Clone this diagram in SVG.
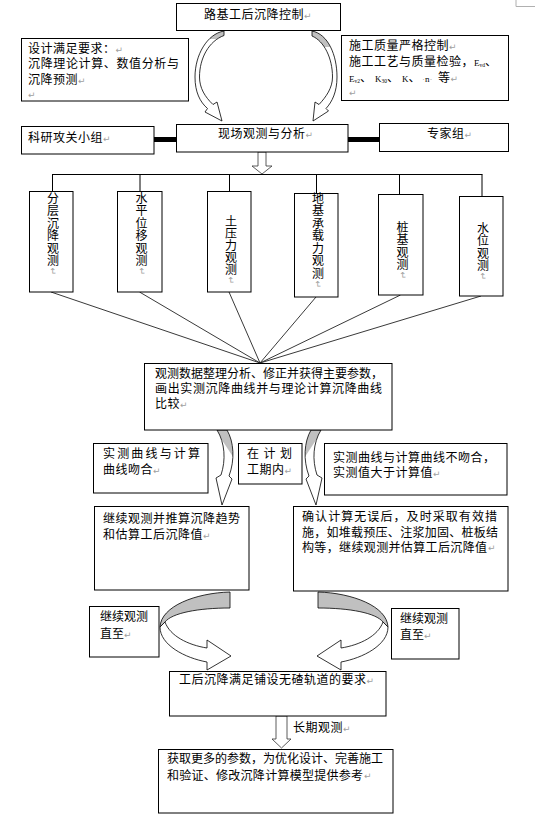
<svg xmlns="http://www.w3.org/2000/svg" width="542" height="819" viewBox="0 0 542 819">
<style>
.box{fill:#fff;stroke:#000;stroke-width:1}
.t{font-family:"Noto Sans CJK SC","Noto Sans CJK JP",sans-serif;font-size:12px;fill:#000;letter-spacing:0.5px}
.j{letter-spacing:0}
.tv{font-family:"Noto Sans CJK SC","Noto Sans CJK JP",sans-serif;font-size:12px;fill:#000}
.pm{font-family:"DejaVu Sans",sans-serif;font-size:9px;fill:#a0a0a0;letter-spacing:0}
.lat{font-family:"Liberation Serif",serif;font-size:9px;letter-spacing:0}
.sub{font-family:"Liberation Serif",serif;font-size:5.5px;letter-spacing:0}
.dot{font-family:"Liberation Serif",serif;font-size:9px;fill:#a0a0a0;letter-spacing:0}
.ln{stroke:#000;stroke-width:1;fill:none}
.cl{stroke:#222;stroke-width:0.9;fill:none}
.bar{stroke:#000;stroke-width:5;fill:none}
.wf{fill:#fff}
.gf{fill:#c0c0c0}
.sk{fill:none;stroke:#000;stroke-width:0.8;stroke-linejoin:round}
.cv{fill:#fff;stroke:#000;stroke-width:0.8;stroke-linejoin:round}
.cg{fill:#c0c0c0;stroke:#000;stroke-width:0.8;stroke-linejoin:round}
.ha{fill:#fff;stroke:#333;stroke-width:0.8}
</style>
<defs>
<path id="tlp" d="M224,31 C207,34 195,55 195,77 C195,92 200,102 207.5,108.5 L205,112 L222,121 L217,102 L213,104.5 C205,97 199.5,88 199.5,77 C199.5,58 209,41 224,35.5 Z"/>
<clipPath id="tlc"><use href="#tlp"/></clipPath>
<path id="trp" d="M312,31 C328,34 337,55 337,77 C337,92 332,102 326,108.5 L328.5,111 L313,121 L315,102 L319,104.5 C326,97 332.5,88 332.5,77 C332.5,58 324,41 312,36 Z"/>
<clipPath id="trc"><use href="#trp"/></clipPath>
<path id="mlp" d="M217,430 L227,430 C234,442 235,460 229,476 L232,479 L222,505 L216,478 L221,475 C226,460 225,443 217,430 Z"/>
<clipPath id="mlc"><use href="#mlp"/></clipPath>
<g id="midArrow">
<use href="#mlp" class="wf"/>
<polygon class="gf" clip-path="url(#mlc)" points="214,428 229,428 234.5,459"/>
<use href="#mlp" class="sk"/>
</g>
<g id="lowArrow">
<path class="cg" d="M230,592 C196,593 161,606 160,627 L165,622 C172,613 198,608 230,608 Z"/>
<path class="cv" d="M160,627 C160,645 185,658 207,662 L207,670 L231,656 L207,640 L207,648 C188,645 170,636 165,622 Z"/>
</g>
</defs>
<rect width="542" height="819" fill="#fff"/>
<path d="M516,0 V6.5 H535" fill="none" stroke="#b0b0b0" stroke-width="1"/>

<g id="connectors">
<use href="#tlp" class="wf"/>
<rect x="180" y="27" width="50" height="12" class="gf" clip-path="url(#tlc)"/>
<use href="#tlp" class="sk"/>
<use href="#trp" class="wf"/>
<rect x="305" y="27" width="40" height="20" class="gf" clip-path="url(#trc)"/>
<use href="#trp" class="sk"/>
<path class="bar" d="M154,139.5 H177 M348,139.5 H380"/>
<polygon class="ha" points="258,152 266,152 266,166 272,166 262,174 252,166 258,166"/>
<path class="ln" d="M52,174.5 H482.5 M52.5,174.5 V191.5 M140,174.5 V191.5 M229.5,174.5 V191.5 M316.5,174.5 V193.5 M399.5,174.5 V194.5 M482,174.5 V196.5"/>
<path class="cl" d="M51,292 L260,363 M139.5,292 L260,363 M229,292 L260,363 M316,297 L260,363 M400.5,295 L260,363 M481,296 L260,363"/>
<use href="#midArrow"/>
<use href="#midArrow" transform="translate(538,0) scale(-1,1)"/>
<use href="#lowArrow"/>
<use href="#lowArrow" transform="translate(548,0) scale(-1,1)"/>
<polygon class="ha" points="276,716 287,716 287,739 291,739 281.5,748 272,739 276,739"/>
<text class="t" x="293" y="731.5">长期观测<tspan class="pm">↵</tspan></text>
</g>

<g id="n-top">
<rect class="box" x="176.5" y="3.5" width="164" height="27"/>
<text class="t" x="204" y="19">路基工后沉降控制<tspan class="pm">↵</tspan></text>
</g>

<g id="n-design">
<rect class="box" x="21.5" y="38.5" width="167" height="62.5"/>
<text class="t" x="28" y="52.5">设计满足要求：<tspan class="pm">↵</tspan></text>
<text class="t j" x="28" y="68" textLength="151" lengthAdjust="spacing">沉降理论计算、数值分析与</text>
<text class="t" x="28" y="84">沉降预测<tspan class="pm">↵</tspan></text>
<text class="pm" x="28" y="98">↵</text>
</g>

<g id="n-quality">
<rect class="box" x="341.5" y="35.5" width="167" height="65"/>
<text class="t" x="349" y="49.5">施工质量严格控制<tspan class="pm">↵</tspan></text>
<text class="t" x="349" y="65.5">施工工艺与质量检验，<tspan class="lat">E</tspan><tspan class="sub" dy="1.5">vd</tspan><tspan dy="-1.5">、</tspan></text>
<text class="t" y="81.5"><tspan class="lat" x="349">E</tspan><tspan class="sub" dy="1.5">v2</tspan><tspan dy="-1.5">、</tspan><tspan class="lat" x="375">K</tspan><tspan class="sub" dy="1.5">30</tspan><tspan dy="-1.5">、</tspan><tspan class="lat" x="402">K</tspan><tspan>、</tspan></text>
<text class="dot" x="422" y="81.5">·<tspan fill="#000">n</tspan>·</text>
<text class="t" x="438" y="81.5">等<tspan class="pm">↵</tspan></text>
<text class="pm" x="349" y="96">↵</text>
</g>

<g id="n-research">
<rect class="box" x="21.5" y="126.5" width="132.5" height="27.5"/>
<text class="t" x="28" y="142">科研攻关小组<tspan class="pm">↵</tspan></text>
</g>

<g id="n-field">
<rect class="box" x="176.5" y="124.5" width="171.5" height="27.5"/>
<text class="t" x="218" y="138">现场观测与分析<tspan class="pm">↵</tspan></text>
</g>

<g id="n-expert">
<rect class="box" x="379.5" y="123.5" width="129" height="28"/>
<text class="t" x="427" y="137.5">专家组<tspan class="pm">↵</tspan></text>
</g>

<g id="n-obs1">
<rect class="box" x="29.5" y="191.5" width="43.5" height="100.5"/>
<text class="tv" x="47 47 47 47 47 47" y="202.5 215 227.5 240 252.5 265">分层沉降观测</text>
<text class="pm" transform="translate(53,271) rotate(90)" x="-3.5" y="3">↵</text>
</g>
<g id="n-obs2">
<rect class="box" x="117.5" y="191.5" width="44.5" height="100.5"/>
<text class="tv" x="135.5 135.5 135.5 135.5 135.5 135.5" y="202.5 215 227.5 240 252.5 265">水平位移观测</text>
<text class="pm" transform="translate(141.5,271) rotate(90)" x="-3.5" y="3">↵</text>
</g>
<g id="n-obs3">
<rect class="box" x="207.5" y="191.5" width="43.5" height="100.5"/>
<text class="tv" x="225 225 225 225 225" y="225.5 237.5 249.5 261.5 273.5">土压力观测</text>
<text class="pm" transform="translate(231,280) rotate(90)" x="-3.5" y="3">↵</text>
</g>
<g id="n-obs4">
<rect class="box" x="294.5" y="193.5" width="43.5" height="103.5"/>
<text class="tv" x="312 312 312 312 312 312 312" y="202.5 215 227.5 240 252.5 265 277.5">地基承载力观测</text>
<text class="pm" transform="translate(318,284) rotate(90)" x="-3.5" y="3">↵</text>
</g>
<g id="n-obs5">
<rect class="box" x="378.5" y="194.5" width="44.5" height="100.5"/>
<text class="tv" x="396.5 396.5 396.5 396.5" y="231.5 244 256.5 269">桩基观测</text>
<text class="pm" transform="translate(402.5,275) rotate(90)" x="-3.5" y="3">↵</text>
</g>
<g id="n-obs6">
<rect class="box" x="459.5" y="196.5" width="43.5" height="99.5"/>
<text class="tv" x="477 477 477 477" y="232.5 245 257.5 270">水位观测</text>
<text class="pm" transform="translate(483,276) rotate(90)" x="-3.5" y="3">↵</text>
</g>

<g id="n-analysis">
<rect class="box" x="144.5" y="363.5" width="247.5" height="66.5"/>
<text class="t j" x="155" y="377.5" textLength="228" lengthAdjust="spacing">观测数据整理分析、修正并获得主要参数，</text>
<text class="t j" x="155" y="392.5" textLength="227" lengthAdjust="spacing">画出实测沉降曲线并与理论计算沉降曲线</text>
<text class="t" x="155" y="407.5">比较<tspan class="pm">↵</tspan></text>
</g>

<g id="n-match">
<rect class="box" x="93.5" y="443.5" width="114.5" height="49.5"/>
<text class="t j" x="103" y="458" textLength="97" lengthAdjust="spacing">实测曲线与计算</text>
<text class="t" x="103" y="473.5">曲线吻合<tspan class="pm">↵</tspan></text>
</g>

<g id="n-period">
<rect class="box" x="238.5" y="443.5" width="63.5" height="40.5"/>
<text class="t j" x="247" y="457.5" textLength="45" lengthAdjust="spacing">在计划</text>
<text class="t" x="247" y="473.5">工期内<tspan class="pm">↵</tspan></text>
</g>

<g id="n-mismatch">
<rect class="box" x="324.5" y="443.5" width="182.5" height="51.5"/>
<text class="t j" x="333" y="461.5" textLength="162" lengthAdjust="spacing">实测曲线与计算曲线不吻合，</text>
<text class="t" x="333" y="476.5">实测值大于计算值<tspan class="pm">↵</tspan></text>
</g>

<g id="n-continue">
<rect class="box" x="94.5" y="506.5" width="154.5" height="83.5"/>
<text class="t j" x="103" y="522.5" textLength="137" lengthAdjust="spacing">继续观测并推算沉降趋势</text>
<text class="t" x="103" y="538.5">和估算工后沉降值<tspan class="pm">↵</tspan></text>
</g>

<g id="n-measures">
<rect class="box" x="293.5" y="506.5" width="214.5" height="84.5"/>
<text class="t j" x="302" y="520.5" textLength="195" lengthAdjust="spacing">确认计算无误后，及时采取有效措</text>
<text class="t j" x="302" y="536.5" textLength="196" lengthAdjust="spacing">施，如堆载预压、注浆加固、桩板结</text>
<text class="t j" x="302" y="551.5" textLength="185" lengthAdjust="spacing">构等，继续观测并估算工后沉降值</text>
<text class="pm" x="488" y="551">↵</text>
</g>

<g id="n-until-left">
<rect class="box" x="89.5" y="606.5" width="69.5" height="50.5"/>
<text class="t j" x="100" y="620.5">继续观测</text>
<text class="t j" x="100" y="637.5">直至<tspan class="pm">↵</tspan></text>
</g>

<g id="n-until-right">
<rect class="box" x="391.5" y="608.5" width="67.5" height="50.5"/>
<text class="t j" x="400" y="622.5">继续观测</text>
<text class="t j" x="400" y="638.5">直至<tspan class="pm">↵</tspan></text>
</g>

<g id="n-meet">
<rect class="box" x="169.5" y="671.5" width="216.5" height="44.5"/>
<text class="t" x="179" y="683.5">工后沉降满足铺设无碴轨道的要求<tspan class="pm">↵</tspan></text>
</g>

<g id="n-more">
<rect class="box" x="158.5" y="749.5" width="234.5" height="63.5"/>
<text class="t j" x="167" y="762.5" textLength="216" lengthAdjust="spacing">获取更多的参数，为优化设计、完善施工</text>
<text class="t j" x="167" y="779.5" textLength="196" lengthAdjust="spacing">和验证、修改沉降计算模型提供参考</text>
<text class="pm" x="364" y="779">↵</text>
</g>
</svg>
